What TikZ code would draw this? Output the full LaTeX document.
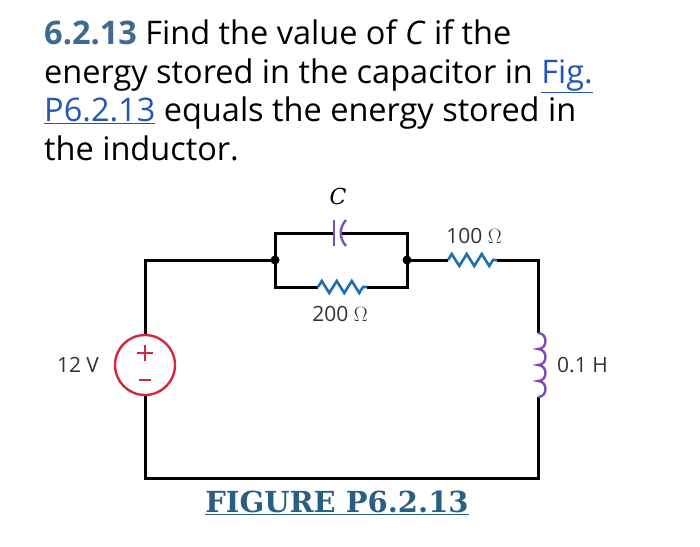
\documentclass[tikz,border=0pt]{standalone}
\usepackage{fontspec}
\setmainfont{Open Sans}
\newfontfamily\figfont{DejaVu Serif}
\usetikzlibrary{decorations.pathmorphing}
\definecolor{numc}{HTML}{3F6A8F}
\definecolor{linkc}{HTML}{2456B8}
\definecolor{figc}{HTML}{2A5F80}
\definecolor{resc}{HTML}{1F6FB0}
\definecolor{capc}{HTML}{7B4FB0}
\definecolor{srcc}{HTML}{D02A3A}
\begin{document}
\begin{tikzpicture}[x=1pt,y=-1pt,
  wire/.style={line width=3pt,black},
  ttl/.style={anchor=base west,inner sep=0pt,font=\fontsize{32.5}{38}\selectfont},
  lbl/.style={font=\fontsize{21}{22}\selectfont,inner sep=1pt,text=black!80},
  res/.style={resc,line width=2.6pt,decorate,decoration={zigzag,amplitude=6pt,segment length=15pt}}]
\useasboundingbox (0,0) rectangle (700,546);
\node[ttl] (l1) at (44,44) {\textcolor{numc}{\textbf{6.2.13}} Find the value of \textit{C} if the};
\node[ttl] (l2) at (44,83) {energy stored in the capacitor in \textcolor{linkc}{\underline{Fig.}}};
\node[ttl] (l3) at (44,121) {\textcolor{linkc}{\underline{P6.2.13}} equals the energy stored in};
\node[ttl] (l4) at (44,160) {the inductor.};
% coordinates
\coordinate (tl) at (145,260); \coordinate (tr) at (538,260);
\coordinate (bl) at (145,478); \coordinate (br) at (538,478);
\coordinate (na) at (275,260); \coordinate (nb) at (407,260);
\coordinate (pa) at (275,233); \coordinate (pb) at (407,233);
\coordinate (qa) at (275,287); \coordinate (qb) at (407,287);
\coordinate (c1) at (334,233); \coordinate (c2) at (341,233);
\coordinate (r1a) at (318,287); \coordinate (r1b) at (367,287);
\coordinate (r2a) at (448,260); \coordinate (r2b) at (497,260);
\coordinate (la) at (538,333); \coordinate (lb) at (538,397);
\node[circle,draw=srcc,line width=2.4pt,minimum size=60pt,inner sep=0pt] (src) at (145,365) {};
\draw[srcc,line width=1.2pt] (137,353) -- (153,353) (145,345) -- (145,361);
\draw[srcc,line width=1.2pt] (139,380) -- (151,380);
% wires
\draw[wire] (src.north) -- (tl) -- (na);
\draw[wire] (src.south) -- (bl) -- (br) -- (lb);
\draw[wire] (la) -- (tr) -- (r2b);
\draw[wire] (r2a) -- (nb);
\draw[wire] (na) -- (pa) -- (c1);
\draw[wire] (c2) -- (pb) -- (nb);
\draw[wire] (na) -- (qa) -- (r1a);
\draw[wire] (r1b) -- (qb) -- (nb);
\fill (na) circle (4.5pt); \fill (nb) circle (4.5pt);
\draw[res] (r1a) -- (r1b);
\draw[res] (r2a) -- (r2b);
\draw[capc,line width=2.4pt] (334,220) -- (334,246);
\draw[capc,line width=2.4pt] (346,220) .. controls (339,228) and (339,238) .. (346,246);
\draw[capc,line width=2.4pt] (la) .. controls (548,333) and (548,349) .. (538,349)
  .. controls (548,349) and (548,365) .. (538,365)
  .. controls (548,365) and (548,381) .. (538,381)
  .. controls (548,381) and (548,397) .. (538,397);
% labels
\node[font=\fontsize{22}{22}\selectfont\itshape\figfont] (cl) at (338,196) {C};
\node[lbl] (l100) at (474,236) {100 $\Omega$};
\node[lbl] (l200) at (340,314) {200 $\Omega$};
\node[lbl] (l12) at (78,365) {12 V};
\node[lbl,anchor=west] (l01) at (556,365) {0.1 H};
\node[anchor=base,figc,font=\fontsize{29}{30}\selectfont\bfseries\figfont,inner sep=0pt] (fig) at (337,512) {\underline{FIGURE P6.2.13}};
\end{tikzpicture}
\end{document}
